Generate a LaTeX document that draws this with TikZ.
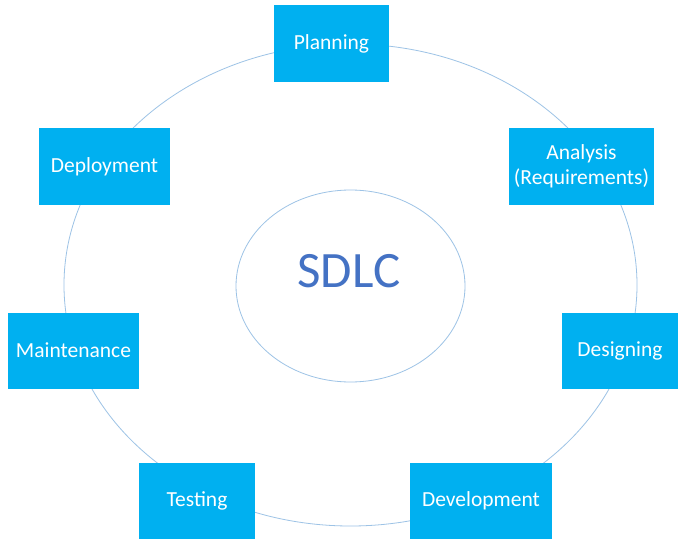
\documentclass[tikz,border=0pt]{standalone}
\usepackage{fontspec}
\setmainfont{Carlito}
\usetikzlibrary{shapes.geometric}
\definecolor{boxblue}{HTML}{00B0F0}
\definecolor{ringblue}{HTML}{9DC3E6}
\definecolor{sdlcblue}{HTML}{4472C4}
\begin{document}
\begin{tikzpicture}[x=1pt,y=-1pt,
  phase/.style={fill=boxblue,draw=none,text=white,font=\fontsize{21.5}{25}\selectfont,
    inner sep=0pt,minimum height=77pt,align=center},
  ring/.style={draw=ringblue,line width=0.8pt}]
\useasboundingbox (0,0) rectangle (680,546);
\fill[white] (0,0) rectangle (680,546);
\draw[ring] (350.5,285) ellipse [x radius=286.5pt,y radius=241pt];
\node[ellipse,ring,minimum width=229pt,minimum height=192pt,inner sep=0pt] (core) at (350.5,286) {};
\node[text=sdlcblue,font=\fontsize{51}{56}\selectfont,inner sep=0pt,anchor=base] (sdlc) at (349,287) {SDLC};
\node[phase,minimum width=115pt] (plan) at (331.5,43.5) {Planning};
\node[phase,minimum width=145pt] (anal) at (581.5,166.5) {Analysis\\(Requirements)};
\node[phase,minimum width=116pt,minimum height=76pt] (desg) at (620,350.5) {Designing};
\node[phase,minimum width=142pt,minimum height=76pt] (devl) at (481,501) {Development};
\node[phase,minimum width=116pt,minimum height=76pt] (test) at (197,501) {Testing};
\node[phase,minimum width=131pt,minimum height=76pt] (main) at (73.5,350.5) {Maintenance};
\node[phase,minimum width=131pt] (depl) at (104.5,166.5) {Deployment};
\end{tikzpicture}
\end{document}
